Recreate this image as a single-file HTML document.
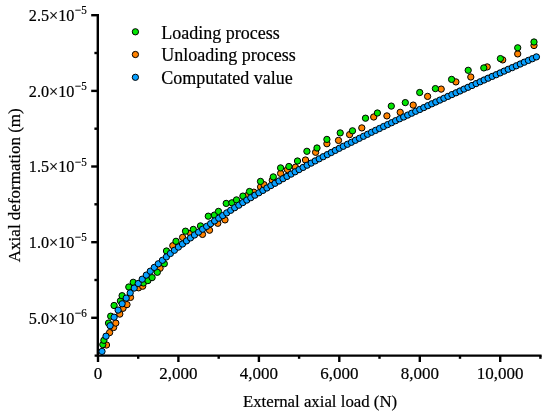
<!DOCTYPE html>
<html><head><meta charset="utf-8"><style>
html,body{margin:0;padding:0;background:#fff;width:550px;height:416px;overflow:hidden}
svg{display:block}
text{font-family:"Liberation Serif","Times New Roman",serif;fill:#000;stroke:#000;stroke-width:0.2px}
</style></head><body>
<svg width="550" height="416" viewBox="0 0 550 416">
<rect width="550" height="416" fill="#fff"/>
<g stroke="#000" stroke-width="2.4" stroke-linecap="butt"><line x1="97.8" y1="14.0" x2="97.8" y2="356.8" /><line x1="94.6" y1="355.6" x2="541.6" y2="355.6" /><line x1="91.2" y1="15.2" x2="97.8" y2="15.2" /><line x1="91.2" y1="90.9" x2="97.8" y2="90.9" /><line x1="91.2" y1="166.5" x2="97.8" y2="166.5" /><line x1="91.2" y1="242.2" x2="97.8" y2="242.2" /><line x1="91.2" y1="317.8" x2="97.8" y2="317.8" /><line x1="94.4" y1="53.0" x2="97.8" y2="53.0" /><line x1="94.4" y1="128.7" x2="97.8" y2="128.7" /><line x1="94.4" y1="204.3" x2="97.8" y2="204.3" /><line x1="94.4" y1="280.0" x2="97.8" y2="280.0" /><line x1="98.0" y1="355.6" x2="98.0" y2="362.0" /><line x1="178.4" y1="355.6" x2="178.4" y2="362.0" /><line x1="258.9" y1="355.6" x2="258.9" y2="362.0" /><line x1="339.3" y1="355.6" x2="339.3" y2="362.0" /><line x1="419.8" y1="355.6" x2="419.8" y2="362.0" /><line x1="500.2" y1="355.6" x2="500.2" y2="362.0" /><line x1="138.2" y1="355.6" x2="138.2" y2="358.8" /><line x1="218.7" y1="355.6" x2="218.7" y2="358.8" /><line x1="299.1" y1="355.6" x2="299.1" y2="358.8" /><line x1="379.5" y1="355.6" x2="379.5" y2="358.8" /><line x1="460.0" y1="355.6" x2="460.0" y2="358.8" /><line x1="540.4" y1="355.6" x2="540.4" y2="358.8" /></g>
<g stroke="#000" stroke-width="1.0">
<g fill="#ff8200"><circle cx="106.5" cy="345.0" r="3.15"/><circle cx="109.6" cy="332.6" r="3.15"/><circle cx="113.6" cy="327.5" r="3.15"/><circle cx="115.8" cy="323.1" r="3.15"/><circle cx="119.8" cy="314.1" r="3.15"/><circle cx="123.0" cy="308.3" r="3.15"/><circle cx="127.0" cy="304.6" r="3.15"/><circle cx="130.5" cy="297.4" r="3.15"/><circle cx="138.6" cy="287.8" r="3.15"/><circle cx="142.7" cy="286.2" r="3.15"/><circle cx="160.1" cy="268.3" r="3.15"/><circle cx="172.8" cy="245.7" r="3.15"/><circle cx="182.6" cy="237.4" r="3.15"/><circle cx="190.5" cy="233.4" r="3.15"/><circle cx="202.5" cy="234.4" r="3.15"/><circle cx="209.5" cy="230.2" r="3.15"/><circle cx="217.8" cy="223.3" r="3.15"/><circle cx="225.0" cy="219.9" r="3.15"/><circle cx="247.1" cy="195.6" r="3.15"/><circle cx="253.8" cy="192.2" r="3.15"/><circle cx="260.6" cy="186.9" r="3.15"/><circle cx="264.0" cy="184.7" r="3.15"/><circle cx="272.3" cy="180.2" r="3.15"/><circle cx="280.6" cy="173.4" r="3.15"/><circle cx="287.4" cy="169.6" r="3.15"/><circle cx="295.4" cy="167.2" r="3.15"/><circle cx="305.5" cy="160.0" r="3.15"/><circle cx="315.6" cy="152.3" r="3.15"/><circle cx="326.9" cy="143.7" r="3.15"/><circle cx="338.5" cy="140.4" r="3.15"/><circle cx="349.6" cy="134.6" r="3.15"/><circle cx="361.8" cy="127.9" r="3.15"/><circle cx="373.7" cy="117.0" r="3.15"/><circle cx="386.9" cy="115.9" r="3.15"/><circle cx="400.2" cy="112.3" r="3.15"/><circle cx="413.2" cy="105.1" r="3.15"/><circle cx="427.6" cy="96.4" r="3.15"/><circle cx="441.2" cy="89.1" r="3.15"/><circle cx="455.9" cy="81.9" r="3.15"/><circle cx="470.8" cy="77.0" r="3.15"/><circle cx="487.2" cy="66.9" r="3.15"/><circle cx="502.7" cy="59.9" r="3.15"/><circle cx="517.7" cy="53.9" r="3.15"/><circle cx="534.0" cy="45.5" r="3.15"/></g>
<g fill="#03e603"><circle cx="102.8" cy="344.6" r="3.15"/><circle cx="103.9" cy="340.3" r="3.15"/><circle cx="108.5" cy="323.1" r="3.15"/><circle cx="110.7" cy="316.2" r="3.15"/><circle cx="114.1" cy="305.5" r="3.15"/><circle cx="120.4" cy="300.9" r="3.15"/><circle cx="122.1" cy="295.7" r="3.15"/><circle cx="128.8" cy="287.0" r="3.15"/><circle cx="133.2" cy="282.3" r="3.15"/><circle cx="143.4" cy="283.0" r="3.15"/><circle cx="147.9" cy="280.6" r="3.15"/><circle cx="152.1" cy="277.6" r="3.15"/><circle cx="157.3" cy="272.3" r="3.15"/><circle cx="164.3" cy="263.7" r="3.15"/><circle cx="166.5" cy="251.0" r="3.15"/><circle cx="176.0" cy="241.3" r="3.15"/><circle cx="185.5" cy="231.2" r="3.15"/><circle cx="193.3" cy="229.4" r="3.15"/><circle cx="200.5" cy="225.9" r="3.15"/><circle cx="208.3" cy="216.2" r="3.15"/><circle cx="214.4" cy="215.1" r="3.15"/><circle cx="218.5" cy="211.4" r="3.15"/><circle cx="226.2" cy="203.4" r="3.15"/><circle cx="231.9" cy="202.8" r="3.15"/><circle cx="236.5" cy="199.9" r="3.15"/><circle cx="242.9" cy="196.1" r="3.15"/><circle cx="249.5" cy="191.5" r="3.15"/><circle cx="260.5" cy="181.4" r="3.15"/><circle cx="273.3" cy="176.9" r="3.15"/><circle cx="280.6" cy="167.9" r="3.15"/><circle cx="288.9" cy="166.5" r="3.15"/><circle cx="297.5" cy="161.0" r="3.15"/><circle cx="306.9" cy="151.3" r="3.15"/><circle cx="317.0" cy="148.0" r="3.15"/><circle cx="326.9" cy="139.4" r="3.15"/><circle cx="340.2" cy="132.9" r="3.15"/><circle cx="352.5" cy="130.8" r="3.15"/><circle cx="365.5" cy="118.2" r="3.15"/><circle cx="377.4" cy="113.0" r="3.15"/><circle cx="391.3" cy="106.1" r="3.15"/><circle cx="405.3" cy="102.6" r="3.15"/><circle cx="419.7" cy="92.5" r="3.15"/><circle cx="435.4" cy="88.6" r="3.15"/><circle cx="451.6" cy="79.4" r="3.15"/><circle cx="468.2" cy="70.3" r="3.15"/><circle cx="483.8" cy="67.9" r="3.15"/><circle cx="500.4" cy="58.6" r="3.15"/><circle cx="517.7" cy="47.8" r="3.15"/><circle cx="534.0" cy="42.0" r="3.15"/></g>
<g fill="#08a0ff"><circle cx="102.0" cy="351.4" r="3.15"/><circle cx="106.0" cy="336.2" r="3.15"/><circle cx="110.1" cy="325.7" r="3.15"/><circle cx="114.1" cy="317.2" r="3.15"/><circle cx="118.1" cy="310.1" r="3.15"/><circle cx="122.1" cy="303.8" r="3.15"/><circle cx="126.2" cy="298.1" r="3.15"/><circle cx="130.2" cy="292.9" r="3.15"/><circle cx="134.2" cy="288.1" r="3.15"/><circle cx="138.2" cy="283.5" r="3.15"/><circle cx="142.2" cy="279.2" r="3.15"/><circle cx="146.3" cy="275.1" r="3.15"/><circle cx="150.3" cy="271.2" r="3.15"/><circle cx="154.3" cy="267.4" r="3.15"/><circle cx="158.3" cy="263.8" r="3.15"/><circle cx="162.4" cy="260.3" r="3.15"/><circle cx="166.4" cy="256.9" r="3.15"/><circle cx="170.4" cy="253.5" r="3.15"/><circle cx="174.4" cy="250.3" r="3.15"/><circle cx="178.4" cy="247.1" r="3.15"/><circle cx="182.5" cy="244.0" r="3.15"/><circle cx="186.5" cy="240.9" r="3.15"/><circle cx="190.5" cy="237.9" r="3.15"/><circle cx="194.5" cy="235.0" r="3.15"/><circle cx="198.6" cy="232.1" r="3.15"/><circle cx="202.6" cy="229.2" r="3.15"/><circle cx="206.6" cy="226.4" r="3.15"/><circle cx="210.6" cy="223.7" r="3.15"/><circle cx="214.6" cy="220.9" r="3.15"/><circle cx="218.7" cy="218.2" r="3.15"/><circle cx="222.7" cy="215.6" r="3.15"/><circle cx="226.7" cy="212.9" r="3.15"/><circle cx="230.7" cy="210.3" r="3.15"/><circle cx="234.7" cy="207.7" r="3.15"/><circle cx="238.8" cy="205.2" r="3.15"/><circle cx="242.8" cy="202.6" r="3.15"/><circle cx="246.8" cy="200.1" r="3.15"/><circle cx="250.8" cy="197.7" r="3.15"/><circle cx="254.9" cy="195.2" r="3.15"/><circle cx="258.9" cy="192.8" r="3.15"/><circle cx="262.9" cy="190.4" r="3.15"/><circle cx="266.9" cy="188.0" r="3.15"/><circle cx="270.9" cy="185.6" r="3.15"/><circle cx="275.0" cy="183.3" r="3.15"/><circle cx="279.0" cy="181.0" r="3.15"/><circle cx="283.0" cy="178.7" r="3.15"/><circle cx="287.0" cy="176.4" r="3.15"/><circle cx="291.1" cy="174.1" r="3.15"/><circle cx="295.1" cy="171.8" r="3.15"/><circle cx="299.1" cy="169.6" r="3.15"/><circle cx="303.1" cy="167.4" r="3.15"/><circle cx="307.1" cy="165.2" r="3.15"/><circle cx="311.2" cy="163.1" r="3.15"/><circle cx="315.2" cy="160.9" r="3.15"/><circle cx="319.2" cy="158.8" r="3.15"/><circle cx="323.2" cy="156.7" r="3.15"/><circle cx="327.3" cy="154.6" r="3.15"/><circle cx="331.3" cy="152.5" r="3.15"/><circle cx="335.3" cy="150.4" r="3.15"/><circle cx="339.3" cy="148.3" r="3.15"/><circle cx="343.3" cy="146.3" r="3.15"/><circle cx="347.4" cy="144.3" r="3.15"/><circle cx="351.4" cy="142.3" r="3.15"/><circle cx="355.4" cy="140.3" r="3.15"/><circle cx="359.4" cy="138.3" r="3.15"/><circle cx="363.5" cy="136.3" r="3.15"/><circle cx="367.5" cy="134.3" r="3.15"/><circle cx="371.5" cy="132.3" r="3.15"/><circle cx="375.5" cy="130.4" r="3.15"/><circle cx="379.5" cy="128.5" r="3.15"/><circle cx="383.6" cy="126.5" r="3.15"/><circle cx="387.6" cy="124.6" r="3.15"/><circle cx="391.6" cy="122.7" r="3.15"/><circle cx="395.6" cy="120.7" r="3.15"/><circle cx="399.6" cy="118.8" r="3.15"/><circle cx="403.7" cy="117.0" r="3.15"/><circle cx="407.7" cy="115.1" r="3.15"/><circle cx="411.7" cy="113.2" r="3.15"/><circle cx="415.7" cy="111.3" r="3.15"/><circle cx="419.8" cy="109.5" r="3.15"/><circle cx="423.8" cy="107.6" r="3.15"/><circle cx="427.8" cy="105.7" r="3.15"/><circle cx="431.8" cy="103.8" r="3.15"/><circle cx="435.8" cy="102.0" r="3.15"/><circle cx="439.9" cy="100.1" r="3.15"/><circle cx="443.9" cy="98.3" r="3.15"/><circle cx="447.9" cy="96.4" r="3.15"/><circle cx="451.9" cy="94.6" r="3.15"/><circle cx="456.0" cy="92.8" r="3.15"/><circle cx="460.0" cy="91.0" r="3.15"/><circle cx="464.0" cy="89.1" r="3.15"/><circle cx="468.0" cy="87.3" r="3.15"/><circle cx="472.0" cy="85.5" r="3.15"/><circle cx="476.1" cy="83.6" r="3.15"/><circle cx="480.1" cy="81.8" r="3.15"/><circle cx="484.1" cy="80.0" r="3.15"/><circle cx="488.1" cy="78.2" r="3.15"/><circle cx="492.2" cy="76.4" r="3.15"/><circle cx="496.2" cy="74.7" r="3.15"/><circle cx="500.2" cy="72.9" r="3.15"/><circle cx="504.2" cy="71.1" r="3.15"/><circle cx="508.2" cy="69.3" r="3.15"/><circle cx="512.3" cy="67.6" r="3.15"/><circle cx="516.3" cy="65.8" r="3.15"/><circle cx="520.3" cy="64.0" r="3.15"/><circle cx="524.3" cy="62.2" r="3.15"/><circle cx="528.4" cy="60.4" r="3.15"/><circle cx="532.4" cy="58.7" r="3.15"/><circle cx="536.4" cy="56.9" r="3.15"/></g>
</g>
<g font-size="17"><text x="74.4" y="21.0" text-anchor="end" textLength="45.6" lengthAdjust="spacingAndGlyphs">2.5×10</text><text x="75.0" y="14.3" font-size="12" textLength="11.8" lengthAdjust="spacingAndGlyphs">−5</text><text x="74.4" y="96.7" text-anchor="end" textLength="45.6" lengthAdjust="spacingAndGlyphs">2.0×10</text><text x="75.0" y="90.0" font-size="12" textLength="11.8" lengthAdjust="spacingAndGlyphs">−5</text><text x="74.4" y="172.3" text-anchor="end" textLength="45.6" lengthAdjust="spacingAndGlyphs">1.5×10</text><text x="75.0" y="165.6" font-size="12" textLength="11.8" lengthAdjust="spacingAndGlyphs">−5</text><text x="74.4" y="248.0" text-anchor="end" textLength="45.6" lengthAdjust="spacingAndGlyphs">1.0×10</text><text x="75.0" y="241.2" font-size="12" textLength="11.8" lengthAdjust="spacingAndGlyphs">−5</text><text x="74.4" y="323.6" text-anchor="end" textLength="45.6" lengthAdjust="spacingAndGlyphs">5.0×10</text><text x="75.0" y="316.9" font-size="12" textLength="11.8" lengthAdjust="spacingAndGlyphs">−6</text></g>
<g font-size="17"><text x="98.0" y="379.0" text-anchor="middle">0</text><text x="178.4" y="379.0" text-anchor="middle">2,000</text><text x="258.9" y="379.0" text-anchor="middle">4,000</text><text x="339.3" y="379.0" text-anchor="middle">6,000</text><text x="419.8" y="379.0" text-anchor="middle">8,000</text><text x="500.2" y="379.0" text-anchor="middle">10,000</text></g>
<text x="320.0" y="407.0" font-size="16.8" text-anchor="middle">External axial load (N)</text>
<text transform="translate(20.4,185.2) rotate(-90)" font-size="17" text-anchor="middle">Axial deformation (m)</text>
<g stroke="#000" stroke-width="1.0">
<circle cx="135.4" cy="31.8" r="3.15" fill="#03e603"/>
<circle cx="135.4" cy="54.5" r="3.15" fill="#ff8200"/>
<circle cx="135.4" cy="77.3" r="3.15" fill="#08a0ff"/>
</g>
<g font-size="18">
<text x="161.3" y="38.6">Loading process</text>
<text x="161.3" y="61.3">Unloading process</text>
<text x="161.3" y="84.0">Computated value</text>
</g>
</svg>
</body></html>
